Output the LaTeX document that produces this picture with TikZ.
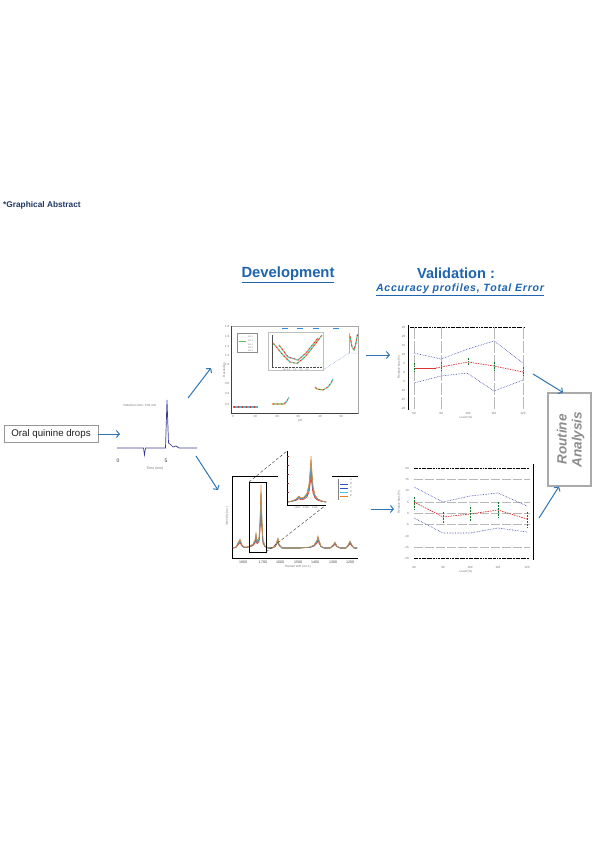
\documentclass[tikz,border=0pt]{standalone}
\usepackage{fontspec}
\setmainfont{Liberation Sans}
\usetikzlibrary{arrows.meta}
\definecolor{arrowblue}{RGB}{46,117,182}
\definecolor{titleblue}{RGB}{30,100,175}
\definecolor{navy}{RGB}{31,56,100}
\definecolor{boxgray}{RGB}{150,150,150}
\definecolor{rgray}{RGB}{170,170,170}
\definecolor{rtext}{RGB}{140,140,140}
\definecolor{textdark}{RGB}{30,30,30}
\definecolor{chrom}{RGB}{60,60,150}
\definecolor{mo}{RGB}{230,126,34}
\definecolor{mc}{RGB}{60,200,220}
\definecolor{mg}{RGB}{90,190,90}
\definecolor{mr}{RGB}{220,50,50}
\definecolor{mb}{RGB}{40,80,200}
\definecolor{vblue}{RGB}{50,60,170}
\definecolor{vgreen}{RGB}{20,120,40}
\newcommand\mdots[1]{\foreach \cc/\pp in {mo/0,mc/1,mg/2,mr/3}{\draw[\cc, line width=1.1pt, dash pattern=on 1pt off 3pt, dash phase=\pp pt] #1;}}
\begin{document}
\begin{tikzpicture}[x=1pt,y=-1pt,
  flow/.style={arrowblue, line width=1pt, -{Straight Barb[length=3pt,width=7pt]}},
  tinylab/.style={font=\fontsize{3}{3}\selectfont, text=black!55, inner sep=0},
  smalllab/.style={font=\fontsize{5}{5}\selectfont, text=black!80, inner sep=0}]
\useasboundingbox (0,0) rectangle (595,842);
\fill[white] (0,0) rectangle (595,842);

% ---- titles
\node[anchor=west, inner sep=0, text=navy, font=\bfseries\fontsize{8.3}{10}\selectfont] (ga) at (3,205.7) {*Graphical Abstract};
\node[inner sep=0, text=titleblue, font=\bfseries\fontsize{14.8}{17}\selectfont] (dev) at (288,275) {\underline{Development}};
\node[inner sep=0, text=titleblue, font=\bfseries\fontsize{14.6}{17}\selectfont] (val) at (456,273) {Validation :};
\node[inner sep=0, text=titleblue, font=\bfseries\itshape\fontsize{10.6}{12}\selectfont] (acc) at (460,290) {\addfontfeatures{LetterSpace=7}\underline{Accuracy profiles, Total Error}};

% ---- input box
\node[draw=boxgray, line width=0.8pt, minimum width=94pt, minimum height=17pt, inner sep=0, text=textdark, font=\fontsize{9.7}{11}\selectfont] (oral) at (51,434) {Oral quinine drops};

% ---- chromatogram
\draw[chrom, line width=0.7pt] (117,448) -- (143.5,448) -- (144.5,455) -- (145.5,448) -- (165.5,448) -- (167,400) -- (168.5,443) -- (171,445) -- (173,447) -- (176,446) -- (179,448) -- (197,448);
\node[smalllab] (t0) at (118,461) {0};
\node[smalllab] (t5) at (166,461) {5};
\node[tinylab, font=\fontsize{3.5}{3.5}\selectfont] (tmin) at (155,469) {Time (min)};
\node[tinylab] (rt) at (140,405) {Retention time: 5.01 min};

% ---- development: top plot
\draw[black!35, line width=0.4pt] (231,326) rectangle (358,413);
\draw[black!75, line width=0.5pt] (231,326) -- (231,413) -- (358,413);
\foreach \y/\l in {326/1.8,336/1.6,346/1.4,355/1.2,364/1.0,383/0.6,393/0.4,404/0.2}{\node[tinylab, anchor=east] at (229.5,\y) {\l};}
\foreach \x/\l in {233/0,255/10,277/20,298/30,320/40,341/50}{\node[tinylab] at (\x,416.5) {\l};}
\node[tinylab, rotate=90] (ylab1) at (224,370) {Resolution};
\node[tinylab] (xlab1) at (300,421) {pH};
% legend
\draw[black!45, line width=0.5pt] (237,333) rectangle (257,352);
\draw[mg, line width=0.8pt] (238.5,341) -- (246,341);
\foreach \y/\l in {337/Rs 1,341/Rs 2,345/Rs 3,348/Rs 4,351/Rs 5}{\node[tinylab, font=\fontsize{2.2}{2.2}\selectfont, anchor=west] at (248,\y) {\l};}
% inset
\draw[black!25, line width=0.5pt] (268,332) rectangle (323,370);
\draw[black!70, line width=0.4pt, densely dotted] (272,367) -- (322,367);
\draw[black!70, line width=0.4pt] (272,335) -- (272,367);
\mdots{(273,343) -- (283,355) -- (290,362) -- (297,363.5) -- (305,357) -- (313,347) -- (322,335)}
\mdots{(279,345) -- (288,357) -- (298,360) -- (306,353) -- (314,343) -- (318,338)}
\node[tinylab, font=\fontsize{2.3}{2.3}\selectfont] at (296,370) {pH 2.0 \quad 2.5 \quad 3.0 \quad 3.5};
% top markers
\foreach \x in {285,300,316,336}{\draw[mc!70!blue, line width=1pt] (\x-3,328) -- (\x+3,328);}
% zoom box right
\draw[mb!60, line width=0.5pt, densely dotted] (323,370) -- (349,353) -- (358,353);
\draw[black!30, line width=0.4pt] (349,333) -- (349,353);
\mdots{(350,336) -- (352,347) -- (354,350) -- (356,343) -- (357.5,334)}
% main data
\mdots{(233,407) -- (258,407)}
\mdots{(272,404) -- (284,404) -- (287,401) -- (289,397)}
\mdots{(315,387) -- (317,389) -- (323,390) -- (328,387) -- (331,383) -- (333,379)}

% ---- development: bottom plot
\draw[black, line width=0.9pt] (278,476) -- (232,476) -- (232,558) -- (358,558);
\draw[black, line width=0.9pt] (332,476) -- (358,476);
\foreach \c/\f in {mg/0.72,mr/0.6,mb/0.84,mc/0.9,mo/1.0}{
\begin{scope}[shift={(0,548)}, yscale=-\f]
\draw[\c, line width=0.55pt] (233,0) -- (236,1) -- (238,5) -- (240,9) -- (242,3) -- (244,1) -- (247,1) -- (250,2) -- (253,4) -- (255,8) -- (256,15) -- (257,7) -- (259,10) -- (260,28) -- (261,63) -- (262,28) -- (263,8) -- (265,2) -- (268,0) -- (272,0) -- (275,2) -- (277,7) -- (278,10) -- (279,4) -- (282,0) -- (290,0) -- (300,0) -- (310,1) -- (314,3) -- (317,8) -- (318,12) -- (319,8) -- (321,2) -- (324,0) -- (330,0) -- (333,3) -- (335,6) -- (337,2) -- (340,0) -- (346,0) -- (348,3) -- (350,7) -- (352,3) -- (354,0) -- (357,0);
\end{scope}}
\draw[black, line width=0.8pt] (249,482) rectangle (266,552);
\draw[black!80, line width=0.4pt, densely dashed] (249,482) -- (287,451);
\draw[black!80, line width=0.4pt, densely dashed] (266,552) -- (326,505);
\foreach \x/\l in {243/1800,263/1700,280/1600,298/1500,315/1400,333/1300,350/1200}{\node[tinylab, text=black!70, font=\fontsize{3.6}{3.6}\selectfont] at (\x,562.5) {\l};}
\node[tinylab] (xlab2) at (298,567) {Raman shift (cm-1)};
\node[tinylab, rotate=90] (ylab2) at (227,516) {Intensity (a.u.)};
% inset spectrum
\fill[white] (287.5,451) rectangle (326,504.5);
\foreach \c/\f in {mg/0.7,mr/0.55,mb/0.82,mc/0.9,mo/1.0}{
\begin{scope}[shift={(0,502)}, yscale=-\f]
\draw[\c, line width=0.55pt] (288,0) -- (292,1) -- (296,3) -- (299,6) -- (301,4) -- (304,5) -- (307,9) -- (309,18) -- (310,30) -- (311,46) -- (312,30) -- (313,16) -- (315,7) -- (318,3) -- (322,1) -- (326,0);
\end{scope}}
\draw[black, line width=0.9pt] (287,451) -- (287,505) -- (326,505);
\foreach \y in {456,465,474,483,492}{\draw[mr!70!black, line width=0.5pt] (287,\y) -- (289,\y);}
\node[tinylab, font=\fontsize{2.5}{2.5}\selectfont] at (306,508) {1400 \quad 1350 \quad 1300};
% legend
\draw[black!50, line width=0.4pt] (338,479) -- (338,500);
\foreach \y/\c in {484/mb,488/mb,492/mc,496/mo}{\draw[\c, line width=0.8pt] (340,\y) -- (348,\y);}
\foreach \y/\l in {480/A,484/B,488/C,492/D,496/E}{\node[tinylab, font=\fontsize{2.5}{2.5}\selectfont, anchor=west] at (350,\y) {\l};}

% ---- validation: top plot
\draw[black, line width=0.8pt] (408,325) -- (408,410);
\draw[black, line width=0.7pt, dash pattern=on 2.5pt off 0.8pt on 0.6pt off 0.8pt] (410,327) -- (525,327);
\foreach \x in {414,441,494,523}{\draw[black!28, line width=0.9pt, dash pattern=on 12pt off 2pt] (\x,327) -- (\x,410);}
\draw[vblue, line width=0.6pt, densely dotted] (414,353) -- (441,359) -- (468,349) -- (494,341) -- (523,363);
\draw[vblue, line width=0.6pt, densely dotted] (414,383) -- (441,376) -- (467,373) -- (494,391) -- (523,380);
\draw[mr, line width=0.8pt] (414,368) -- (436,368);
\draw[mr, line width=0.7pt, dash pattern=on 1.5pt off 1pt] (436,368) -- (441,367) -- (468,362) -- (494,366) -- (523,372);
\foreach \x/\a/\b in {414/363/373,441/362/372,468/358/365,494/362/370,523/367/377}{\draw[vgreen, line width=0.9pt, dash pattern=on 1.5pt off 1pt] (\x,\a) -- (\x,\b);}
\foreach \y/\l in {327/25,336/20,345/15,354/10,363/5,372/0,381/-5,390/-10,399/-15,408/-20}{\node[tinylab, anchor=east] at (405.5,\y) {\l};}
\foreach \x/\l in {414/80,441/90,468/100,494/110,523/120}{\node[tinylab] at (\x,413) {\l};}
\node[tinylab, rotate=90] (ylab3) at (399,367) {Relative bias (\%)};
\node[tinylab] (xlab3) at (466,418) {Level (\%)};

% ---- validation: bottom plot
\draw[black, line width=0.7pt, dash pattern=on 2.5pt off 0.8pt on 0.6pt off 0.8pt] (414,468) -- (530,468);
\draw[black, line width=0.7pt, dash pattern=on 2.5pt off 0.8pt on 0.6pt off 0.8pt] (414,558) -- (530,558);
\draw[black, line width=0.8pt] (533,464) -- (533,560);
\foreach \y in {479,502,513,524,547}{\draw[black!28, line width=0.8pt, dash pattern=on 9pt off 2pt] (414,\y) -- (530,\y);}
\draw[vblue, line width=0.6pt, densely dotted] (414,487) -- (443,502) -- (470,496) -- (498,493) -- (527,506);
\draw[vblue, line width=0.6pt, densely dotted] (414,518) -- (443,533) -- (470,533) -- (498,528) -- (527,532);
\draw[mr, line width=0.7pt, dash pattern=on 1.5pt off 1pt] (414,502) -- (443,517) -- (470,514) -- (498,510) -- (527,519);
\foreach \x/\a/\b in {414/497/510,443/512/524,470/507/522,498/502/518,527/512/528}{\draw[vgreen, line width=0.9pt, dash pattern=on 1.5pt off 1.5pt] (\x,\a) -- (\x,\b);}
\foreach \y/\l in {468/20,479/15,490/10,502/5,513/0,524/-5,536/-10,547/-15,558/-20}{\node[tinylab, anchor=east] at (409,\y) {\l};}
\foreach \x/\l in {414/80,443/90,470/100,498/110,527/120}{\node[tinylab] at (\x,567) {\l};}
\node[tinylab, rotate=90] (ylab4) at (399,502) {Relative bias (\%)};
\node[tinylab] (xlab4) at (466,572) {Level (\%)};

% ---- routine analysis
\node[draw=rgray, line width=1.2pt, minimum width=43pt, minimum height=93pt, inner sep=0] (routine) at (569.5,439.5) {};
\node[rotate=90, inner sep=0, align=center, text=rtext, font=\bfseries\itshape\fontsize{13.5}{15}\selectfont] (rtxt) at (570.5,439.5) {Routine\\Analysis};

% ---- connectors
\coordinate (a1e) at (120,434);
\coordinate (a2s) at (188,398); \coordinate (a2e) at (211,368);
\coordinate (a3s) at (196,456); \coordinate (a3e) at (218,490);
\coordinate (a4s) at (366,355); \coordinate (a4e) at (390,355);
\coordinate (a5s) at (371,509); \coordinate (a5e) at (394,509);
\coordinate (a6s) at (533,374); \coordinate (a6e) at (563,392.5);
\coordinate (a7s) at (539,518); \coordinate (a7e) at (559,486.5);
\draw[flow] (oral.east) -- (a1e);
\draw[flow] (a2s) -- (a2e);
\draw[flow] (a3s) -- (a3e);
\draw[flow] (a4s) -- (a4e);
\draw[flow] (a5s) -- (a5e);
\draw[flow] (a6s) -- (a6e);
\draw[flow] (a7s) -- (a7e);
\end{tikzpicture}
\end{document}
